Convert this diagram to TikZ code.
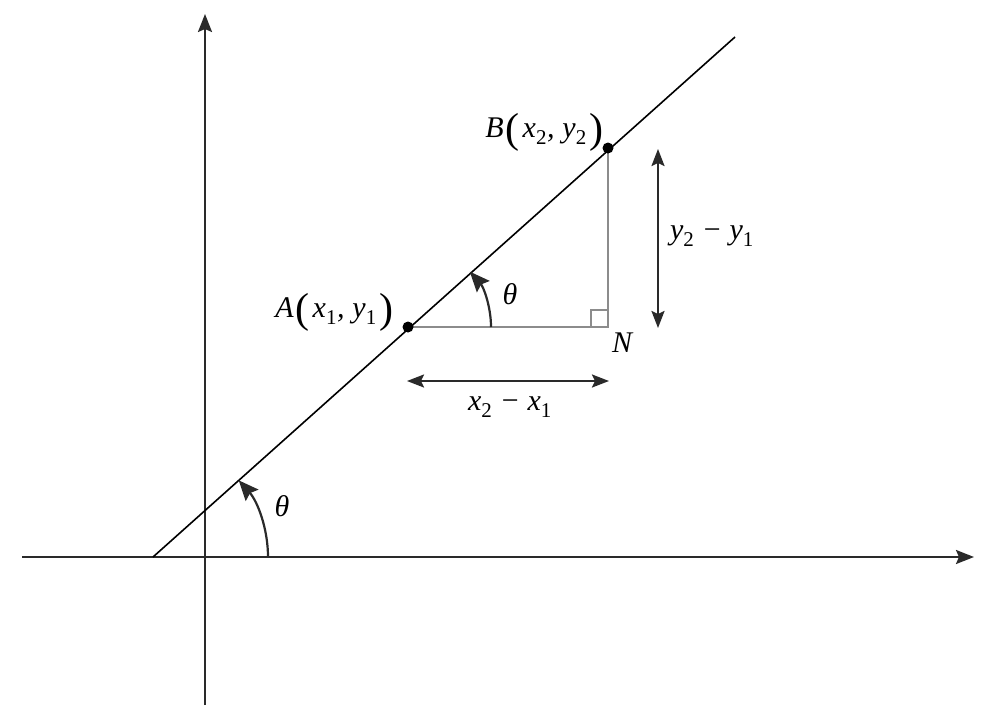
\documentclass[tikz,border=0pt]{standalone}
\usepackage{fontspec}
\setmainfont{Liberation Serif}
\usetikzlibrary{arrows.meta,calc}
\definecolor{axisgray}{HTML}{2A2A2A}
\definecolor{legray}{HTML}{8C8C8C}
\newcommand{\bigp}[1]{{\upshape\fontsize{42}{42}\selectfont\raisebox{-0.1em}{#1}}}
\newcommand{\sbs}[1]{\textsubscript{\upshape\raisebox{-0.15em}{#1}}}
\begin{document}
\begin{tikzpicture}[x=1pt,y=-1pt,
  lbl/.style={font=\fontsize{30}{32}\selectfont\itshape, inner sep=0pt},
  axisline/.style={line width=2.2pt, draw=axisgray, -{Stealth[length=18pt,width=14pt,inset=3pt]}},
  dimarrow/.style={line width=2.2pt, draw=axisgray, {Stealth[length=17pt,width=13pt,inset=3pt]}-{Stealth[length=17pt,width=13pt,inset=3pt]}},
  anglearc/.style={line width=2.2pt, draw=axisgray, -{Stealth[length=20pt,width=17pt,inset=3pt]}},
  mainline/.style={line width=1.6pt, draw=black},
  legline/.style={line width=1.3pt, draw=legray},
  dot/.style={circle, fill=black, inner sep=0pt, minimum size=11pt}]
\useasboundingbox (0,0) rectangle (997,705);
% axes
\coordinate (xl) at (22,557);
\coordinate (xr) at (974,557);
\coordinate (yb) at (205,705);
\coordinate (yt) at (205,14);
\draw[axisline] (xl) -- (xr);
\draw[axisline] (yb) -- (yt);
% main line
\coordinate (P0) at (153,557);
\coordinate (P1) at (735,37);
\draw[mainline] (P0) -- (P1);
% triangle
\coordinate (N) at (608,327);
\draw[legline] (408,327) -- (N) -- (608,148);
\draw[legline] ($(N)+(-17,0)$) -- ++(0,-17) -- ++(17,0);
\node[dot] (A) at (408,327) {};
\node[dot] (B) at (608,148) {};
% angle arcs
\draw[anglearc] (268,557) arc[start angle=0, end angle=-41.8, radius=115];
\draw[anglearc] (491,327) arc[start angle=0, end angle=-41.8, radius=83];
% dimension arrows
\coordinate (h1) at (407,381);
\coordinate (h2) at (609,381);
\draw[dimarrow] (h1) -- (h2);
\coordinate (v1) at (658,149);
\coordinate (v2) at (658,328);
\draw[dimarrow] (v1) -- (v2);
% labels
\node[lbl, anchor=east] (lA) at (394,312) {A\kern2pt\bigp{(}\kern3pt x\sbs{1},\kern8pt y\sbs{1}\kern3pt\bigp{)}};
\node[lbl, anchor=east] (lB) at (604,132) {B\kern2pt\bigp{(}\kern3pt x\sbs{2},\kern8pt y\sbs{2}\kern3pt\bigp{)}};
\node[lbl] (lN) at (622,343) {N};
\node[lbl] (lth1) at (282,506) {θ};
\node[lbl] (lth2) at (510,294) {θ};
\node[lbl] (ldx) at (510,407) {x\sbs{2} − x\sbs{1}};
\node[lbl] (ldy) at (712,236) {y\sbs{2} − y\sbs{1}};
\end{tikzpicture}
\end{document}
